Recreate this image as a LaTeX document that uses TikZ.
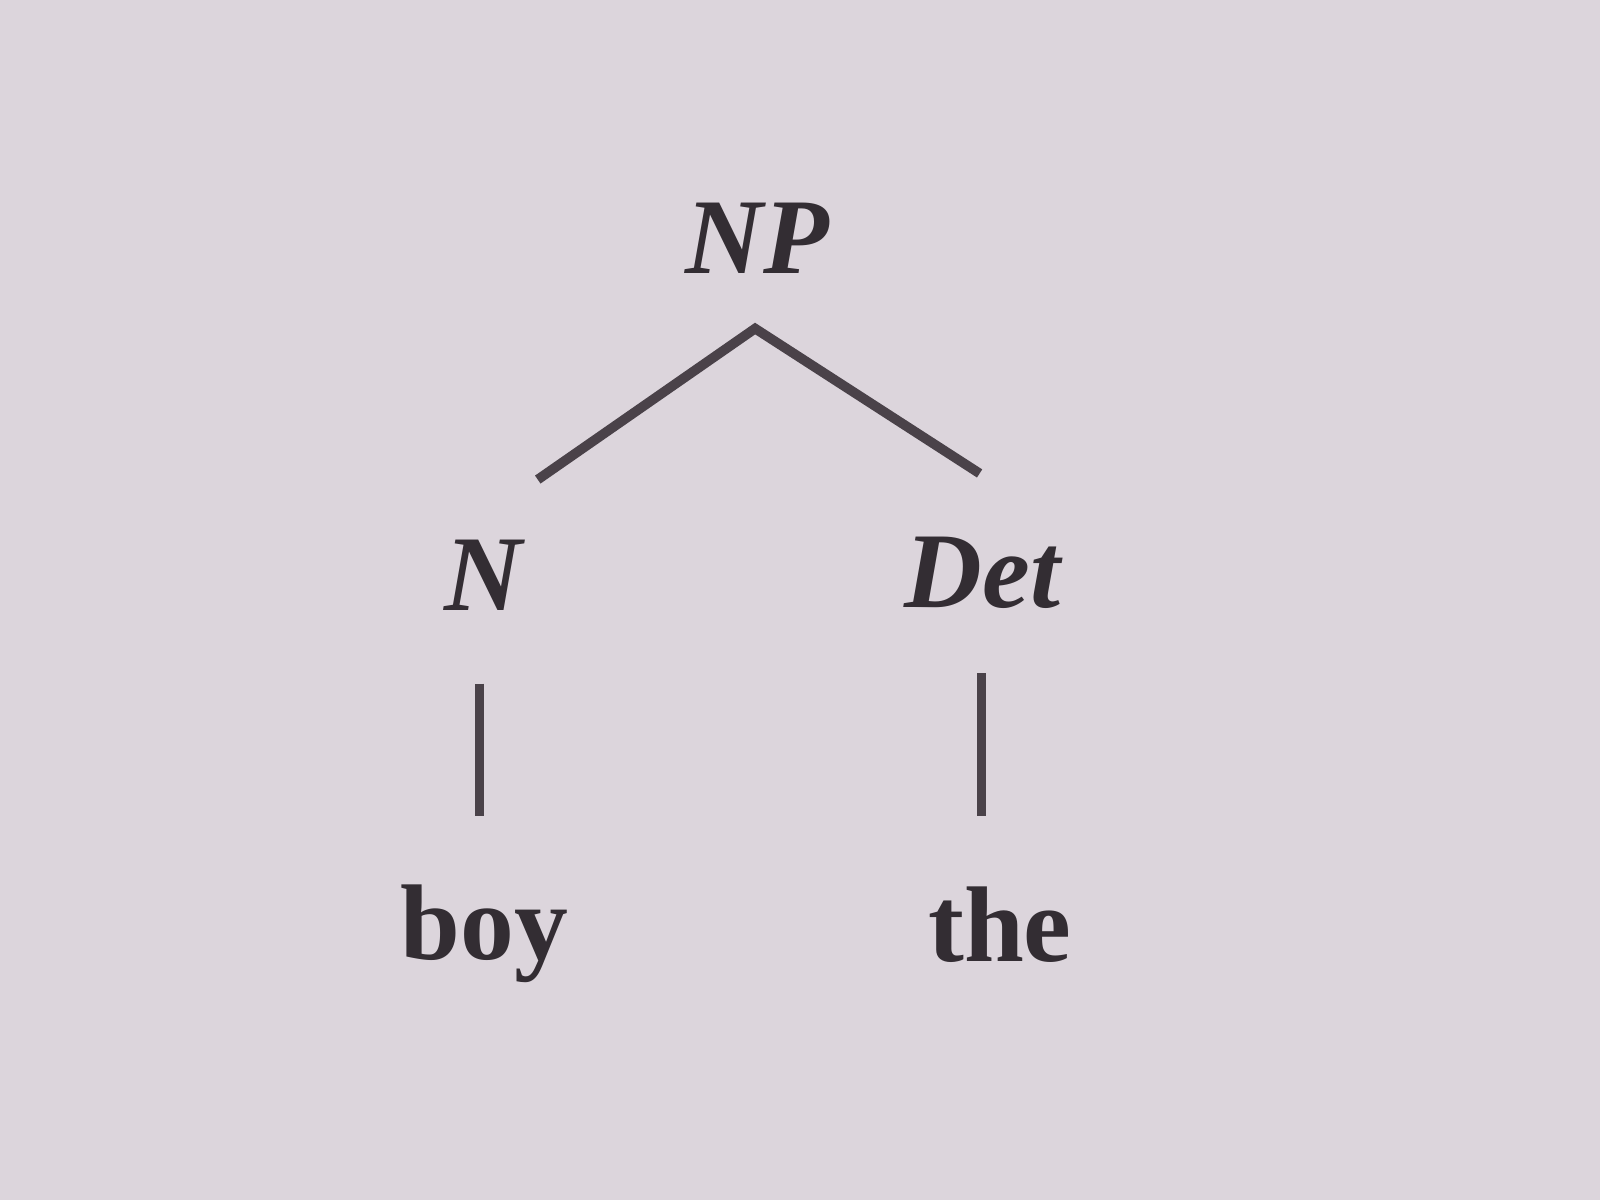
\documentclass[tikz,border=0pt]{standalone}
\usepackage{fontspec}
\setmainfont{Liberation Serif}
\begin{document}
\begin{tikzpicture}[x=1cm,y=1cm,
  lab/.style={font=\fontsize{30}{30}\selectfont\bfseries\itshape, text=ink, inner sep=0pt, anchor=base},
  word/.style={font=\fontsize{30}{30}\selectfont\bfseries, text=ink, inner sep=0pt, anchor=base},
  branch/.style={draw=linec, line width=2.7pt, line join=miter}]
\definecolor{bg}{HTML}{DCD5DC}
\definecolor{ink}{HTML}{332D33}
\definecolor{linec}{HTML}{4A4249}
\fill[bg] (0,0) rectangle (15.68,11.76);
\useasboundingbox (0,0) rectangle (15.68,11.76);
% nodes (y = (1176 - ypx)/100)
\node[lab] (NP) at (7.42,9.08) {NP};
\node[lab] (N) at (4.74,5.78) {N};
\node[lab] (Det) at (9.63,5.81) {Det};
\node[word] (boy) at (4.75,2.36) {boy};
\node[word] (the) at (9.80,2.34) {the};
% branch points
\coordinate (apex) at (7.40,8.54);
\coordinate (nL) at (5.27,7.06);
\coordinate (nR) at (9.60,7.12);
\coordinate (nTop) at (4.70,5.06);
\coordinate (nBot) at (4.70,3.76);
\coordinate (dTop) at (9.62,5.16);
\coordinate (dBot) at (9.62,3.76);
\draw[branch] (nL) -- (apex) -- (nR);
\draw[branch] (nTop) -- (nBot);
\draw[branch] (dTop) -- (dBot);
\end{tikzpicture}
\end{document}
